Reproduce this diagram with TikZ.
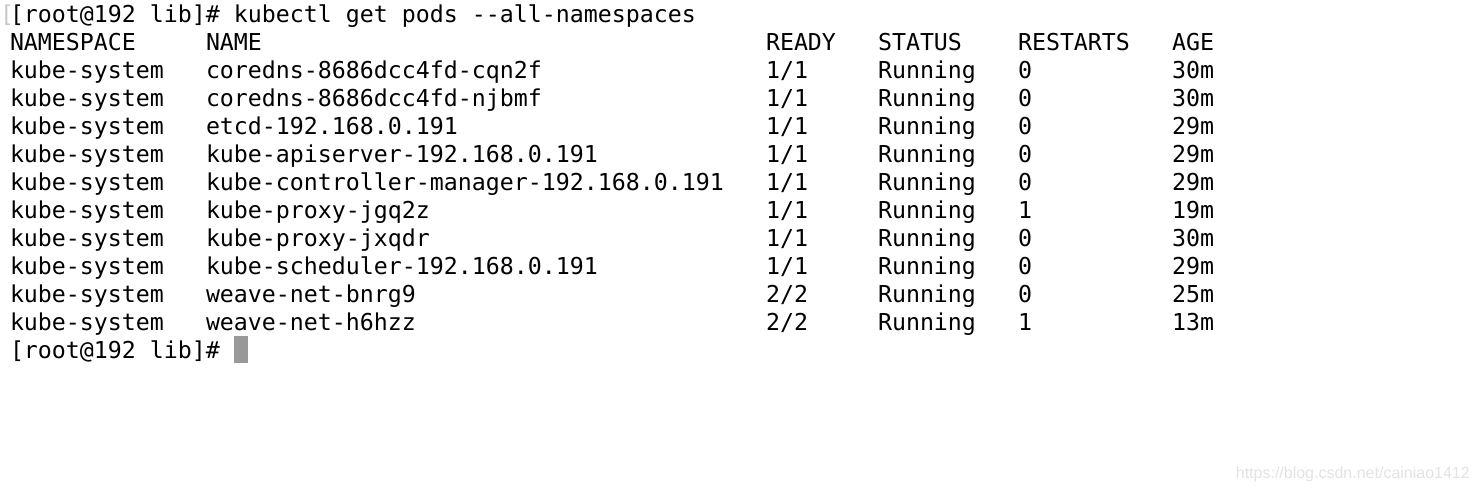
\documentclass[tikz,border=0pt]{standalone}
\usepackage{fontspec}
\usepackage{xcolor}
\usepackage{tikz}
\newfontfamily\termfont{DejaVu Sans Mono}
\newfontfamily\markfont{Liberation Sans}
\definecolor{cursorgray}{RGB}{153,153,153}
\definecolor{ghostgray}{RGB}{200,200,200}
\definecolor{markgray}{RGB}{226,226,226}

\begin{document}
\begin{tikzpicture}[x=1pt,y=-1pt,
  term/.style={anchor=base west,inner sep=0,outer sep=0,
    font=\termfont\fontsize{23.25}{28}\selectfont},
  cursor/.style={anchor=north west,fill=cursorgray,inner sep=0,
    minimum width=14pt,minimum height=27pt},
  wmark/.style={anchor=base east,inner sep=0,text=markgray,
    font=\markfont\fontsize{16}{18}\selectfont}]

  \useasboundingbox (0,0) rectangle (1480,492);

  \node[term,text=ghostgray] at (0,22.5) (ghost){[};
  \node[term] at (10,22.5) (cmd){[root@192 lib]\# kubectl get pods -\kern0pt-all-namespaces};

  % header
  \node[term] at (10,50.5) (hns){NAMESPACE};
  \node[term] at (206,50.5) (hpod){NAME};
  \node[term] at (766,50.5) (hrdy){READY};
  \node[term] at (878,50.5) (hst){STATUS};
  \node[term] at (1018,50.5) (hrs){RESTARTS};
  \node[term] at (1172,50.5) (hage){AGE};

  \foreach \pod/\ra/\rb/\rs/\age [count=\i] in {
      coredns-8686dcc4fd-cqn2f/1/1/0/30m,
      coredns-8686dcc4fd-njbmf/1/1/0/30m,
      etcd-192.168.0.191/1/1/0/29m,
      kube-apiserver-192.168.0.191/1/1/0/29m,
      kube-controller-manager-192.168.0.191/1/1/0/29m,
      kube-proxy-jgq2z/1/1/1/19m,
      kube-proxy-jxqdr/1/1/0/30m,
      kube-scheduler-192.168.0.191/1/1/0/29m,
      weave-net-bnrg9/2/2/0/25m,
      weave-net-h6hzz/2/2/1/13m}{
    \node[term] at (10,{50.5+28*\i}) (ns\i){kube-system};
    \node[term] at (206,{50.5+28*\i}) (pod\i){\pod};
    \node[term] at (766,{50.5+28*\i}) (rdy\i){\ra/\rb};
    \node[term] at (878,{50.5+28*\i}) (st\i){Running};
    \node[term] at (1018,{50.5+28*\i}) (rs\i){\rs};
    \node[term] at (1172,{50.5+28*\i}) (age\i){\age};
  }

  \node[term] at (10,358.5) (prompt){[root@192 lib]\#};
  \node[cursor] at (234,336) (cur){};

  \node[wmark] at (1470,478) (mark){https://blog.csdn.net/cainiao1412};

\end{tikzpicture}
\end{document}
